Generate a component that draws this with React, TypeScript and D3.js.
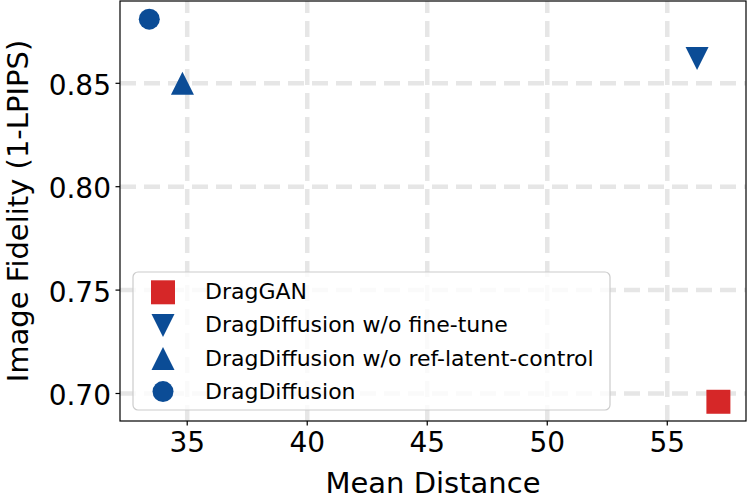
import { useEffect, useRef } from "react"
import * as d3 from "d3"

// Data
const methods = ["DragGAN", "DragDiffusion w/o fine-tune", "DragDiffusion w/o ref-latent-control", "DragDiffusion"]
const meanDistance = [57.13, 56.24, 34.8, 33.42]
const imageFidelity = [0.696, 0.862, 0.85, 0.881]
const xTicks = [35, 40, 45, 50, 55]
const yTicks = [0.7, 0.75, 0.8, 0.85]

const markerShapes = ["square", "triangle-down", "triangle-up", "circle"]
const markerColors = ["#d62728", "#0b4c96", "#0b4c96", "#0b4c96"]

const width = 750
const height = 500
const margin = { top: 1, right: 4, bottom: 79, left: 120 }
const font = "'DejaVu Sans', sans-serif"

const markerPath = (shape: string) => {
    const p = d3.path()
    if (shape === "square") {
        p.rect(-12, -12, 24, 24)
    } else if (shape === "triangle-up") {
        p.moveTo(0, -11.5); p.lineTo(11.5, 11.5); p.lineTo(-11.5, 11.5); p.closePath()
    } else if (shape === "triangle-down") {
        p.moveTo(0, 11.5); p.lineTo(11.5, -11.5); p.lineTo(-11.5, -11.5); p.closePath()
    } else {
        p.arc(0, 0, 10.5, 0, 2 * Math.PI)
    }
    return p.toString()
}

export default function App() {
    const svgRef = useRef<SVGSVGElement>(null)

    useEffect(() => {
        document.body.style.margin = "0"
        const svg = d3.select(svgRef.current)
        svg.selectAll("*").remove()

        const x = d3.scaleLinear().domain([32.2, 58.28]).range([margin.left, width - margin.right])
        const y = d3.scaleLinear().domain([0.6867, 0.8898]).range([height - margin.bottom, margin.top])
        const [x0, x1] = x.range()
        const [yb, yt] = y.range()

        svg.append("rect").attr("width", width).attr("height", height).attr("fill", "white")

        // grid
        const grid = svg.append("g")
            .attr("stroke", "#e6e6e6")
            .attr("stroke-width", 4.5)
            .attr("stroke-dasharray", "16,8")
        grid.selectAll("line.gx").data(xTicks).join("line")
            .attr("x1", d => x(d)).attr("x2", d => x(d))
            .attr("y1", yb).attr("y2", yt)
        grid.selectAll("line.gy").data(yTicks).join("line")
            .attr("x1", x0).attr("x2", x1)
            .attr("y1", d => y(d)).attr("y2", d => y(d))

        // points
        svg.append("g").selectAll("path").data(methods).join("path")
            .attr("d", (_, i) => markerPath(markerShapes[i]))
            .attr("transform", (_, i) => `translate(${x(meanDistance[i])},${y(imageFidelity[i])})`)
            .attr("fill", (_, i) => markerColors[i])

        // spines
        svg.append("rect")
            .attr("x", x0).attr("y", yt)
            .attr("width", x1 - x0).attr("height", yb - yt)
            .attr("fill", "none").attr("stroke", "black").attr("stroke-width", 1.2)

        // x axis
        const xa = svg.append("g").attr("font-family", font).attr("font-size", 28)
        xa.selectAll("line").data(xTicks).join("line")
            .attr("x1", d => x(d)).attr("x2", d => x(d))
            .attr("y1", yb).attr("y2", yb + 4.5)
            .attr("stroke", "black").attr("stroke-width", 1.2)
        xa.selectAll("text").data(xTicks).join("text")
            .attr("x", d => x(d)).attr("y", yb + 31)
            .attr("text-anchor", "middle")
            .text(d => d3.format("d")(d))

        // y axis
        const ya = svg.append("g").attr("font-family", font).attr("font-size", 28)
        ya.selectAll("line").data(yTicks).join("line")
            .attr("x1", x0 - 4.5).attr("x2", x0)
            .attr("y1", d => y(d)).attr("y2", d => y(d))
            .attr("stroke", "black").attr("stroke-width", 1.2)
        ya.selectAll("text").data(yTicks).join("text")
            .attr("x", x0 - 9).attr("y", d => y(d) + 11.5)
            .attr("text-anchor", "end")
            .text(d => d3.format(".2f")(d))

        // axis labels
        svg.append("text")
            .attr("x", (x0 + x1) / 2).attr("y", 493)
            .attr("text-anchor", "middle")
            .attr("font-family", font).attr("font-size", 29)
            .text("Mean Distance")
        svg.append("text")
            .attr("transform", `translate(28,${(yb + yt) / 2}) rotate(-90)`)
            .attr("text-anchor", "middle")
            .attr("font-family", font).attr("font-size", 29)
            .text("Image Fidelity (1-LPIPS)")

        // legend
        const legend = svg.append("g").attr("transform", "translate(133,272)")
        legend.append("rect")
            .attr("width", 477).attr("height", 138).attr("rx", 5)
            .attr("fill", "white").attr("fill-opacity", 0.8)
            .attr("stroke", "#cccccc").attr("stroke-width", 1.2)
        const rows = legend.selectAll("g").data(methods).join("g")
            .attr("transform", (_, i) => `translate(30,${20.3 + i * 33.1})`)
        rows.append("path")
            .attr("d", (_, i) => markerPath(markerShapes[i]))
            .attr("fill", (_, i) => markerColors[i])
        rows.append("text")
            .attr("x", 42).attr("y", 7)
            .attr("font-family", font).attr("font-size", 22)
            .text(d => d)
    }, [])

    return <svg ref={svgRef} width={width} height={height} style={{ display: "block" }} />
}
